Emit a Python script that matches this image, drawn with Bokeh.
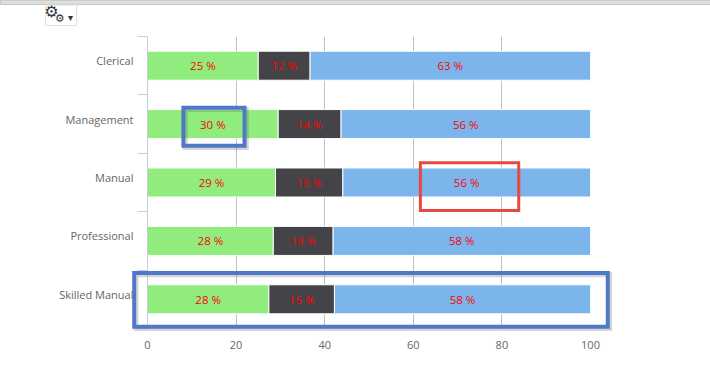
from bokeh.plotting import figure
from bokeh.models import (ColumnDataSource, FixedTicker, Range1d)
from bokeh.core.properties import value
from bokeh.embed import file_html
from bokeh.resources import INLINE

categories = ["Clerical", "Management", "Manual", "Professional", "Skilled Manual"]
green_values = [25.0, 29.5, 28.9, 28.4, 27.4]
dark_values = [11.7, 14.2, 15.2, 13.5, 14.8]
blue_values = [63.3, 56.3, 55.9, 58.1, 57.8]
green_labels = ["25 %", "30 %", "29 %", "28 %", "28 %"]
dark_labels = ["12 %", "14 %", "15 %", "14 %", "15 %"]
blue_labels = ["63 %", "56 %", "56 %", "58 %", "58 %"]
x_ticks = [0, 20, 40, 60, 80, 100]

FONT = "Open Sans"
positions = [i + 0.5 for i in range(len(categories))]
# the category names sit a little above the centre of their band
label_positions = [y - 0.085 for y in positions]

p = figure(width=710, height=373, output_backend="svg", toolbar_location=None,
           x_range=Range1d(0, 100), y_range=Range1d(len(categories), 0),
           min_border_left=147, min_border_right=120, min_border_top=36, min_border_bottom=45,
           outline_line_color=None, background_fill_color="white", border_fill_color="white")

src = ColumnDataSource(dict(y=positions, green=green_values, dark=dark_values, blue=blue_values))
p.hbar_stack(["green", "dark", "blue"], y="y", height=0.497, source=src,
             color=["#90ed7d", "#434348", "#7cb5ec"], line_color="white", line_width=1)

# data labels
for vals_before, vals, labels in [
    ([0] * 5, green_values, green_labels),
    (green_values, dark_values, dark_labels),
    ([a + b for a, b in zip(green_values, dark_values)], blue_values, blue_labels),
]:
    lsrc = ColumnDataSource(dict(x=[b + v / 2 for b, v in zip(vals_before, vals)], y=positions, t=labels))
    p.text(x="x", y="y", text="t", source=lsrc, text_color="#ff0000", text_align="center",
           text_baseline="middle", text_font=value(FONT), text_font_size="11.5px", y_offset=0)

# x axis
p.xaxis.ticker = FixedTicker(ticks=x_ticks)
p.xaxis.axis_line_color = None
p.xaxis.major_tick_line_color = None
p.xaxis.minor_tick_line_color = None
p.xaxis.major_label_text_color = "#666666"
p.xaxis.major_label_text_font = FONT
p.xaxis.major_label_text_font_size = "11px"
p.xaxis.major_label_standoff = 6

# y axis
p.yaxis.ticker = FixedTicker(ticks=label_positions, minor_ticks=list(range(len(categories) + 1)))
p.yaxis.major_label_overrides = {pos: c for pos, c in zip(label_positions, categories)}
p.yaxis.axis_line_color = "#c0d0e0"
p.yaxis.major_tick_line_color = None
p.yaxis.major_tick_in = 0
p.yaxis.major_tick_out = 0
p.yaxis.minor_tick_line_color = "#c0d0e0"
p.yaxis.minor_tick_in = 0
p.yaxis.minor_tick_out = 10
p.yaxis.major_label_text_color = "#666666"
p.yaxis.major_label_text_font = FONT
p.yaxis.major_label_text_font_size = "11px"
p.yaxis.major_label_standoff = 4

p.xgrid.ticker = FixedTicker(ticks=x_ticks[1:])
p.xgrid.grid_line_color = "#c0c0c0"
p.ygrid.grid_line_color = None

# callout rectangles (data units): shadow first, then frame
callouts = [
    (8.1, 21.9, 1.22, 1.87, "#4f78c8", 4),
    (61.6, 83.8, 2.16, 2.98, "#e8483f", 3),
    (-3.0, 103.9, 4.05, 4.97, "#4f78c8", 4),
]
for l, r, t, b, col, w in callouts:
    if col != "#e8483f":
        p.quad(left=[l + 0.4], right=[r + 0.4], top=[t + 0.03], bottom=[b + 0.03], fill_color=None,
               line_color="#555555", line_alpha=0.25, line_width=w + 1, line_join="miter", level="overlay")
    p.quad(left=[l], right=[r], top=[t], bottom=[b], fill_color=None, line_color=col, line_width=w,
           line_join="miter", level="overlay")

# browser chrome strip
p.quad(left=[-33.2], right=[127.1], top=[-0.62], bottom=[-0.55], fill_color="#dfdfdd",
       line_color="#c4c4c4", line_width=1, level="overlay")
# settings button
p.quad(left=[-23.0], right=[-16.0], top=[-0.54], bottom=[-0.19], fill_color=None,
       line_color="#dddddd", line_width=1, level="overlay")
icon_x = [-21.7, -19.8, -17.4]
icon_y = [-0.42, -0.31, -0.33]
icon_size = ["16px", "11px", "10px"]
icon_t = ["⚙", "⚙", "▾"]
p.text(x=icon_x, y=icon_y, text=icon_t, text_font_size=icon_size, text_color="#333333",
       text_font=value("DejaVu Sans"), text_align="center", text_baseline="middle", level="overlay")

open("out.html", "w").write(file_html(p, INLINE))
